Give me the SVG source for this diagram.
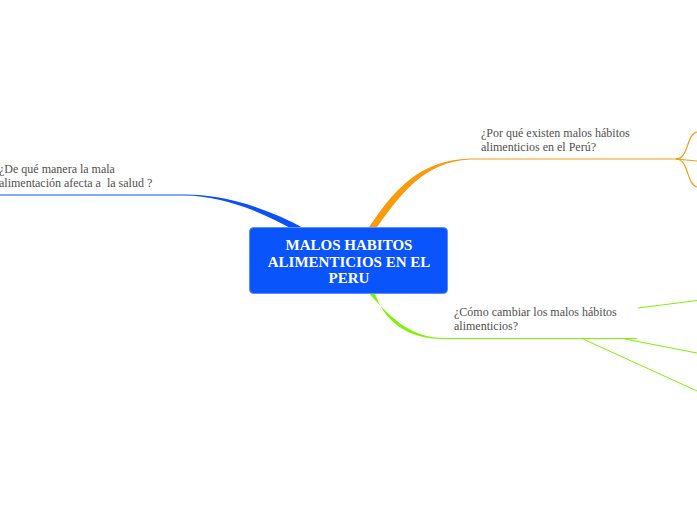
<svg xmlns="http://www.w3.org/2000/svg" width="697" height="520" viewBox="0 0 697 520">
<style>
.lbl{font-family:"Liberation Serif","Times New Roman",serif;font-size:12px;fill:#505050}
.ctr{font-family:"Liberation Serif","Times New Roman",serif;font-size:15px;font-weight:bold;fill:#ffffff;text-anchor:middle}
.or{stroke:#f89c0e;fill:none}
.gr{stroke:#80f20a;fill:none}
</style>
<rect width="697" height="520" fill="#ffffff"/>
<g id="connectors">
<!-- blue -->
<path d="M307,230 C262,205 220,194.5 185,194.5 L0,194.5 L0,195.5 L185,195.5 C218,196 256,208 297,232 Z" fill="#0a50fb"/>
<!-- orange -->
<path d="M366,232 C392,192 418,160 470,158.5 L676,158.5 L676,159.5 L470,159.5 C424,162 400,194 373,233 Z" fill="#f89c0e"/>
<path class="or" stroke-width="1.2" d="M676,159 C689,159 686,134 697,132"/>
<path class="or" stroke-width="1.2" d="M676,159 L697,161"/>
<path class="or" stroke-width="1.2" d="M676,159 C689,159 686,184 697,187"/>
<!-- green -->
<path d="M367,291 C392,320 412,338 445,338 L637,338 L637,339 L445,339 C408,339.5 384,322 374,291 Z" fill="#80f20a"/>
<path class="gr" stroke-width="1" d="M638,308 L697,300.5"/>
<path class="gr" stroke-width="1.2" d="M625,339 L697,353"/>
<path class="gr" stroke-width="1" d="M583,339 L697,391"/>
</g>
<g id="center">
<rect x="249.5" y="227.5" width="198" height="66" rx="4" fill="#0a55fb" stroke="#5f8cff" stroke-width="1"/>
<text class="ctr" x="349" y="250">MALOS HABITOS</text>
<text class="ctr" x="349" y="266.5">ALIMENTICIOS EN EL</text>
<text class="ctr" x="349" y="283">PERU</text>
</g>
<g id="n-orange">
<text class="lbl" x="481" y="137">¿Por qué existen malos hábitos</text>
<text class="lbl" x="481" y="150.5">alimenticios en el Perú?</text>
</g>
<g id="n-blue">
<text class="lbl" x="-1" y="173">¿De qué manera la mala</text>
<text class="lbl" x="-1" y="186.5" xml:space="preserve">alimentación afecta a  la salud ?</text>
</g>
<g id="n-green">
<text class="lbl" x="454" y="316">¿Cómo cambiar los malos hábitos</text>
<text class="lbl" x="454" y="329.5">alimenticios?</text>
</g>
</svg>
